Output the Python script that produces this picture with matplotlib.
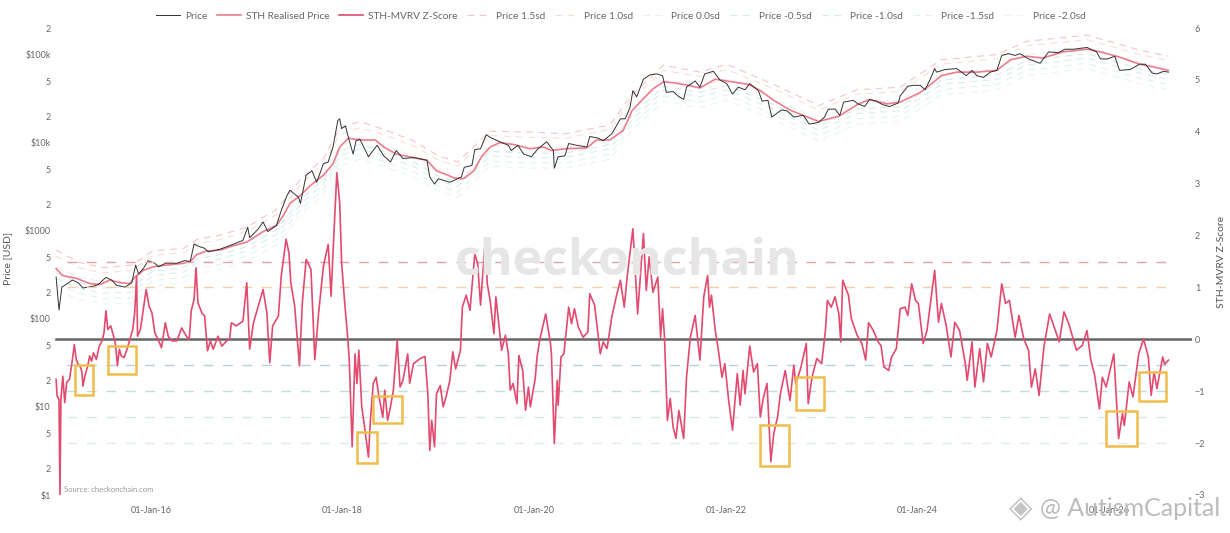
import matplotlib
matplotlib.use("Agg")
import matplotlib.pyplot as plt
from matplotlib.patches import Rectangle
import numpy as np

plt.rcParams['font.family'] = ['Lato', 'DejaVu Sans']

# STH-MVRV Z-score
z_years = [2015.01,2015.02,2015.04,2015.05,2015.06,2015.08,2015.10,2015.12,2015.15,2015.18,2015.20,2015.22,2015.24,2015.26,2015.28,2015.29,2015.31,2015.34,2015.36,2015.38,2015.40,2015.43,2015.46,2015.49,2015.51,2015.53,2015.55,2015.58,2015.61,2015.63,2015.65,2015.67,2015.69,2015.72,2015.75,2015.78,2015.81,2015.83,2015.85,2015.86,2015.89,2015.92,2015.95,2015.98,2016.01,2016.04,2016.08,2016.11,2016.15,2016.18,2016.22,2016.27,2016.32,2016.37,2016.40,2016.42,2016.45,2016.47,2016.49,2016.53,2016.56,2016.59,2016.62,2016.65,2016.70,2016.74,2016.79,2016.82,2016.84,2016.89,2016.96,2017.00,2017.03,2017.07,2017.12,2017.17,2017.21,2017.24,2017.27,2017.33,2017.36,2017.41,2017.44,2017.46,2017.50,2017.55,2017.58,2017.62,2017.67,2017.71,2017.75,2017.80,2017.85,2017.88,2017.90,2017.94,2017.97,2017.99,
2018.02,2018.05,2018.07,2018.10,2018.13,2018.15,2018.17,2018.20,2018.23,2018.27,2018.29,2018.32,2018.35,2018.38,2018.42,2018.44,2018.47,2018.50,2018.53,2018.57,2018.60,2018.63,2018.68,2018.70,2018.74,2018.81,2018.86,2018.89,2018.91,2018.93,2018.96,2018.98,2019.02,2019.05,2019.08,2019.12,2019.15,2019.18,2019.23,2019.25,2019.29,2019.33,2019.38,2019.41,2019.44,2019.49,2019.51,2019.54,2019.58,2019.60,2019.63,2019.66,2019.70,2019.73,2019.75,2019.78,2019.82,2019.84,2019.88,2019.91,2019.94,2019.96,2020.01,2020.03,2020.06,2020.12,2020.17,2020.18,2020.21,2020.24,2020.25,2020.28,2020.31,2020.36,2020.39,2020.42,2020.46,2020.51,2020.56,2020.58,2020.63,2020.69,2020.72,2020.76,2020.81,2020.86,2020.90,
2020.94,2020.97,2021.03,2021.08,2021.14,2021.17,2021.20,2021.24,2021.29,2021.32,2021.34,2021.36,2021.39,2021.42,2021.45,2021.48,2021.51,2021.56,2021.59,2021.63,2021.68,2021.73,2021.77,2021.81,2021.83,2021.85,2021.89,2021.92,2021.96,2021.99,2022.03,2022.07,2022.12,2022.15,2022.18,2022.20,2022.25,2022.29,2022.33,2022.36,2022.39,2022.43,2022.47,2022.50,2022.54,2022.57,2022.62,2022.67,2022.71,2022.73,2022.78,2022.84,2022.86,2022.90,2022.95,2023.00,2023.04,2023.06,2023.10,2023.14,2023.18,2023.20,2023.22,2023.28,2023.31,2023.37,2023.42,2023.46,2023.49,2023.54,2023.59,2023.62,2023.65,2023.70,2023.73,2023.78,2023.82,2023.87,2023.90,2023.94,2023.98,
2024.01,2024.06,2024.10,2024.14,2024.18,2024.22,2024.25,2024.30,2024.35,2024.39,2024.44,2024.50,2024.52,2024.57,2024.60,2024.65,2024.69,2024.73,2024.77,2024.83,2024.88,2024.92,2024.96,2025.02,2025.06,2025.11,2025.16,2025.19,2025.23,2025.27,2025.32,2025.38,2025.44,2025.48,2025.53,2025.58,2025.61,2025.66,2025.72,2025.77,2025.81,2025.85,2025.90,2025.93,2025.97,2026.05,2026.10,2026.14,2026.16,2026.21,2026.25,2026.31,2026.36,2026.41,2026.44,2026.47,2026.50,2026.56,2026.58,2026.62]
z_values = [-0.77,-1.09,-1.16,-2.99,-1.16,-0.71,-1.22,-0.83,-0.77,-0.39,-0.10,-0.39,-0.48,-0.51,-0.64,-0.90,-0.71,-0.51,-0.32,-0.42,-0.26,-0.39,-0.13,-0.03,0.13,0.55,0.19,0.26,0.06,-0.10,-0.51,-0.19,-0.32,-0.35,-0.19,0.0,0.19,0.51,1.22,0.06,0.19,0.58,0.96,0.64,0.51,0.13,-0.03,-0.16,0.32,0.06,-0.03,-0.03,0.22,0.06,0.0,0.55,0.77,1.38,0.71,0.51,0.45,-0.22,-0.03,-0.19,0.06,-0.13,-0.03,0.0,0.32,0.26,0.35,1.09,-0.19,0.32,0.64,0.96,0.51,-0.45,0.26,0.45,1.22,1.93,1.67,1.09,0.64,-0.51,0.71,1.54,1.35,-0.39,0.51,1.41,1.83,0.83,1.67,3.21,2.63,1.48,
0.75,0.11,-0.40,-2.07,-0.28,-0.85,-0.21,-1.30,-1.69,-2.27,-1.56,-0.85,-0.73,-1.11,-1.50,-0.98,-1.56,-1.30,-0.98,-0.02,-0.92,-0.79,-0.28,-0.85,-0.47,-0.37,-0.33,-1.05,-2.14,-1.56,-2.07,-1.05,-0.89,-1.30,-1.11,-0.79,-0.24,-0.57,-0.21,0.62,0.85,0.56,1.65,1.46,0.66,1.94,1.07,0.75,0.11,0.82,0.30,-0.21,0.08,-0.28,-0.98,-0.85,-1.24,-0.31,-0.60,-1.37,-0.92,-1.30,-0.76,-0.34,0.01,0.49,-0.08,-0.28,-2.01,-0.79,-1.27,-0.34,-0.28,0.62,0.30,0.59,0.24,0.04,0.14,0.88,0.66,-0.28,-0.05,-0.18,0.43,0.85,1.14,
0.62,1.20,2.13,0.49,2.04,0.94,1.59,0.91,1.20,0.04,0.59,0.04,-1.56,-1.14,-1.69,-1.91,-1.37,-1.91,-0.73,0.04,0.46,-0.40,0.82,1.23,0.62,0.85,0.17,-0.18,-0.73,-0.47,-1.18,-1.75,-0.66,-1.27,-0.60,-1.05,-0.13,-0.63,-0.47,-1.50,-1.14,-0.85,-2.36,-1.82,-1.50,-1.05,-0.60,-1.18,-0.50,-0.85,-0.57,-0.08,-1.24,-0.73,-0.37,-0.47,0.17,0.75,0.62,0.82,0.49,-0.05,1.14,0.85,0.40,0.08,-0.08,-0.40,0.32,0.17,-0.05,-0.12,-0.53,-0.60,-0.34,-0.18,0.59,0.62,0.46,1.07,0.75,
0.69,-0.08,0.17,0.75,1.33,0.33,0.69,0.27,-0.34,0.33,0.17,-0.47,-0.79,-0.05,-0.92,-0.18,-0.82,-0.08,-0.34,0.17,1.07,0.69,0.75,0.04,0.46,0.01,-0.21,-0.92,-0.57,-1.08,-0.15,0.49,0.17,-0.05,0.53,0.30,0.11,-0.21,-0.12,0.17,-0.40,-0.69,-1.34,-0.73,-0.92,-0.28,-1.91,-1.43,-1.66,-0.82,-1.11,-0.28,0.01,-0.34,-1.08,-0.63,-0.95,-0.34,-0.48,-0.40]

# Price (log10 USD)
price_years = [2015.01,2015.04,2015.07,2015.10,2015.18,2015.24,2015.29,2015.40,2015.45,2015.53,2015.59,2015.64,2015.73,2015.80,2015.84,2015.87,2015.92,2015.97,2016.04,2016.08,2016.15,2016.27,2016.35,2016.41,2016.45,2016.48,2016.56,2016.60,2016.72,2016.82,2016.96,2017.01,2017.03,2017.12,2017.17,2017.22,2017.31,2017.36,2017.42,2017.45,2017.54,2017.56,2017.62,2017.68,2017.73,2017.80,2017.85,2017.90,2017.95,2017.97,2017.99,2018.03,2018.06,2018.11,2018.14,2018.18,2018.27,2018.36,2018.43,2018.50,2018.56,2018.63,2018.74,2018.88,2018.91,2018.96,2019.00,2019.12,2019.24,2019.27,2019.35,2019.38,2019.44,2019.50,2019.54,2019.64,2019.73,2019.76,2019.83,2019.89,2019.97,2020.04,2020.13,2020.20,2020.21,2020.25,2020.32,2020.36,2020.44,2020.55,2020.58,2020.67,2020.72,2020.81,2020.90,2020.95,2021.00,2021.03,2021.07,2021.14,2021.21,2021.28,2021.34,2021.38,2021.45,2021.50,2021.56,2021.59,2021.68,2021.73,2021.78,2021.87,2021.94,2022.01,2022.07,2022.13,2022.20,2022.25,2022.34,2022.38,2022.44,2022.48,2022.58,2022.64,2022.71,2022.81,2022.87,2022.97,2023.03,2023.07,2023.14,2023.19,2023.23,2023.33,2023.38,2023.45,2023.50,2023.57,2023.64,2023.71,2023.80,2023.82,2023.90,2023.96,2024.03,2024.08,2024.13,2024.18,2024.20,2024.29,2024.41,2024.51,2024.57,2024.62,2024.69,2024.76,2024.83,2024.88,2024.95,2025.02,2025.07,2025.16,2025.28,2025.37,2025.47,2025.54,2025.63,2025.77,2025.87,2025.91,2025.98,2026.06,2026.11,2026.22,2026.32,2026.38,2026.45,2026.50,2026.57,2026.62]
price_log = [2.475,2.10,2.36,2.38,2.44,2.41,2.35,2.37,2.39,2.47,2.44,2.38,2.36,2.41,2.61,2.51,2.57,2.66,2.63,2.59,2.63,2.63,2.66,2.65,2.85,2.83,2.80,2.76,2.79,2.83,2.89,3.04,2.92,3.02,3.10,2.99,3.06,3.23,3.40,3.46,3.38,3.31,3.63,3.68,3.55,3.76,3.78,3.95,4.25,4.27,4.16,4.19,4.06,3.87,4.02,4.04,3.84,3.97,3.85,3.78,3.91,3.82,3.83,3.80,3.61,3.53,3.59,3.55,3.61,3.72,3.74,3.92,3.93,4.09,4.06,4.01,3.97,3.91,3.97,3.87,3.84,3.93,4.01,3.91,3.71,3.84,3.85,3.99,3.97,3.95,4.07,4.05,4.02,4.10,4.27,4.27,4.40,4.59,4.52,4.72,4.77,4.78,4.76,4.57,4.58,4.53,4.49,4.63,4.70,4.63,4.78,4.81,4.71,4.67,4.55,4.63,4.60,4.67,4.59,4.47,4.48,4.29,4.37,4.36,4.29,4.31,4.21,4.23,4.29,4.38,4.38,4.31,4.46,4.48,4.44,4.41,4.49,4.47,4.43,4.41,4.45,4.53,4.64,4.65,4.65,4.60,4.71,4.84,4.80,4.83,4.84,4.76,4.82,4.76,4.74,4.80,4.82,4.99,5.01,4.99,5.01,4.95,4.90,5.03,5.02,5.06,5.06,5.08,5.03,4.95,4.95,4.98,4.82,4.83,4.89,4.89,4.79,4.78,4.81,4.80]

# STH realised price (log10 USD)
real_years = [2015.01,2015.08,2015.22,2015.36,2015.47,2015.57,2015.68,2015.78,2015.83,2015.92,2016.02,2016.16,2016.34,2016.42,2016.48,2016.58,2016.72,2016.86,2017.00,2017.17,2017.31,2017.38,2017.45,2017.56,2017.66,2017.80,2017.90,2017.97,2018.06,2018.18,2018.34,2018.43,2018.56,2018.74,2018.88,2018.98,2019.10,2019.16,2019.26,2019.37,2019.45,2019.54,2019.64,2019.78,2019.96,2020.10,2020.18,2020.32,2020.55,2020.65,2020.79,2020.93,2021.02,2021.14,2021.24,2021.35,2021.45,2021.61,2021.73,2021.89,2022.01,2022.24,2022.36,2022.50,2022.67,2022.85,2022.97,2023.04,2023.18,2023.37,2023.50,2023.68,2023.82,2024.03,2024.15,2024.25,2024.41,2024.62,2024.83,2024.97,2025.14,2025.31,2025.52,2025.77,2025.91,2026.11,2026.32,2026.46,2026.62]
real_log = [2.57,2.49,2.46,2.40,2.39,2.44,2.41,2.40,2.47,2.55,2.59,2.61,2.63,2.66,2.73,2.77,2.78,2.83,2.87,2.99,3.06,3.17,3.31,3.40,3.51,3.63,3.76,3.95,4.05,4.03,4.03,3.95,3.87,3.83,3.80,3.68,3.63,3.60,3.59,3.68,3.84,3.95,4.00,3.98,3.93,3.95,3.91,3.93,3.94,4.03,4.03,4.14,4.36,4.50,4.61,4.69,4.68,4.65,4.62,4.72,4.70,4.66,4.59,4.48,4.37,4.29,4.24,4.26,4.30,4.43,4.49,4.44,4.46,4.57,4.67,4.76,4.80,4.80,4.82,4.94,4.98,4.96,5.03,5.06,5.03,4.97,4.89,4.86,4.82]

# Price standard-deviation bands (log10 USD)
band_years = [2015.01,2015.25,2015.50,2015.80,2016.02,2016.34,2016.48,2016.72,2017.00,2017.31,2017.56,2017.80,2017.97,2018.18,2018.43,2018.74,2019.00,2019.20,2019.54,2019.96,2020.32,2020.79,2021.02,2021.35,2021.73,2022.01,2022.50,2022.97,2023.37,2023.82,2024.25,2024.83,2025.14,2025.77,2026.32,2026.62]
band_p15 = [2.78,2.64,2.58,2.61,2.77,2.80,2.90,2.95,3.04,3.24,3.58,3.82,4.16,4.24,4.15,4.02,3.85,3.78,4.13,4.12,4.10,4.20,4.54,4.88,4.80,4.89,4.66,4.42,4.60,4.63,4.94,5.00,5.15,5.22,5.05,4.98]
band_p10 = [2.71,2.58,2.52,2.55,2.72,2.75,2.85,2.90,2.99,3.18,3.52,3.76,4.09,4.17,4.09,3.96,3.80,3.73,4.08,4.06,4.05,4.15,4.49,4.82,4.75,4.83,4.61,4.37,4.55,4.58,4.89,4.95,5.10,5.17,5.00,4.93]
band_p00 = [2.59,2.47,2.42,2.43,2.60,2.64,2.74,2.79,2.88,3.07,3.41,3.64,3.96,4.05,3.97,3.85,3.69,3.62,3.97,3.95,3.94,4.05,4.38,4.71,4.64,4.72,4.50,4.26,4.45,4.48,4.78,4.84,5.00,5.08,4.91,4.84]
band_m05 = [2.52,2.41,2.35,2.36,2.54,2.58,2.68,2.73,2.82,3.01,3.35,3.58,3.90,3.98,3.90,3.78,3.62,3.55,3.90,3.88,3.88,3.98,4.31,4.64,4.57,4.65,4.43,4.19,4.38,4.41,4.71,4.77,4.93,5.01,4.84,4.77]
band_m10 = [2.46,2.35,2.29,2.30,2.49,2.53,2.63,2.68,2.77,2.96,3.30,3.53,3.85,3.93,3.85,3.73,3.57,3.50,3.85,3.83,3.83,3.93,4.26,4.59,4.52,4.60,4.38,4.14,4.33,4.36,4.66,4.72,4.88,4.96,4.79,4.72]
band_m15 = [2.39,2.29,2.23,2.24,2.43,2.47,2.57,2.62,2.71,2.90,3.24,3.47,3.79,3.87,3.79,3.67,3.51,3.44,3.79,3.77,3.77,3.87,4.20,4.53,4.46,4.54,4.32,4.08,4.27,4.30,4.60,4.66,4.82,4.90,4.73,4.66]
band_m20 = [2.32,2.22,2.17,2.18,2.37,2.41,2.51,2.56,2.65,2.84,3.18,3.41,3.73,3.81,3.73,3.61,3.45,3.38,3.73,3.71,3.71,3.81,4.14,4.47,4.40,4.48,4.26,4.02,4.21,4.24,4.54,4.60,4.76,4.84,4.67,4.60]

band_names = ["Price 1.5sd","Price 1.0sd","Price 0.0sd","Price -0.5sd","Price -1.0sd","Price -1.5sd","Price -2.0sd"]
band_colors = ["#f5c3cb","#f8dfd6","#eeeeee","#d5e9f0","#d5efec","#e0f3f0","#eaf6f4"]
band_levels = [1.5,1.0,0.0,-0.5,-1.0,-1.5,-2.0]
hline_colors = ["#e5a0ae","#f3cfa8","#555555","#b5d0dc","#bfdfdc","#d8e8e6","#e2ecea"]

# Highlight boxes: (start year, end year, low z, high z)
box_year0 = [2015.21,2015.55,2018.15,2018.32,2022.36,2022.73,2025.97,2026.31]
box_year1 = [2015.39,2015.84,2018.36,2018.62,2022.66,2023.03,2026.29,2026.59]
box_zlow  = [-1.08,-0.66,-2.39,-1.62,-2.45,-1.37,-2.06,-1.19]
box_zhigh = [-0.50,-0.13,-1.79,-1.10,-1.66,-0.73,-1.39,-0.62]

xtick_years = [2016,2018,2020,2022,2024,2026]
xtick_labels = ["01-Jan-16","01-Jan-18","01-Jan-20","01-Jan-22","01-Jan-24","01-Jan-26"]
ytick_values = [1,2,5,10,20,50,100,200,500,1000,2000,5000,10000,20000,50000,100000,200000]
ytick_labels = ["$1","2","5","$10","2","5","$100","2","5","$1000","2","5","$10k","2","5","$100k","2"]
ztick_values = [-3,-2,-1,0,1,2,3,4,5,6]

W, H = 1230, 533
fig = plt.figure(figsize=(W/100, H/100), dpi=100, facecolor="white")
L, R_, T, B = 52, 1192, 28, 495
ax = fig.add_axes([L/W, 1-B/H, (R_-L)/W, (B-T)/H])
ax.set_xlim(2014.967, 2026.866)
ax.set_yscale("log")
ax.set_ylim(1, 10**5.295)
ax.minorticks_off()
ax.set_yticks(ytick_values)
ax.set_yticklabels(ytick_labels)
ax.set_xticks(xtick_years)
ax.set_xticklabels(xtick_labels)
ax.tick_params(axis="both", length=0, labelsize=6.5, labelcolor="#666666")
ax.tick_params(axis="y", pad=1)
ax.tick_params(axis="x", pad=8)
for s in ax.spines.values():
    s.set_visible(False)
ax.set_facecolor("none")

ax2 = ax.twinx()
ax2.set_ylim(-3, 6)
ax2.set_yticks(ztick_values)
ax2.tick_params(axis="y", length=0, labelsize=6.5, labelcolor="#666666", pad=2)
for s in ax2.spines.values():
    s.set_visible(False)
ax2.set_facecolor("none")

fig.text(455/W, 1-262/H, "checkonchain", fontsize=36, fontweight="bold",
         color="#e6e6e6", va="center", ha="left", family="Open Sans", zorder=0)

bands = [band_p15, band_p10, band_p00, band_m05, band_m10, band_m15, band_m20]
lh_price, = ax.plot(price_years, 10**np.array(price_log), color="#333333", lw=0.7, zorder=4, label="Price")
lh_real, = ax.plot(real_years, 10**np.array(real_log), color="#ec7d8c", lw=1.2, zorder=3, label="STH Realised Price")
band_handles = []
for vals, name, col in zip(bands, band_names, band_colors):
    h, = ax.plot(band_years, 10**np.array(vals), color=col, lw=0.8, ls=(0, (6, 5)), zorder=2, label=name)
    band_handles.append(h)

for lev, col in zip(band_levels, hline_colors):
    if lev == 0:
        ax2.plot([2015.01, 2026.86], [lev, lev], color=col, lw=1.8, alpha=0.9, zorder=5)
    else:
        ax2.plot([2015.12, 2026.62], [lev, lev], color=col, lw=1.0, ls=(0, (7, 7)), zorder=1)

lh_z, = ax2.plot(z_years, z_values, color="#e24a70", lw=1.2, zorder=6, label="STH-MVRV Z-Score")

for x0, x1, zl, zh in zip(box_year0, box_year1, box_zlow, box_zhigh):
    ax2.add_patch(Rectangle((x0, zl), x1-x0, zh-zl, fill=False, ec="#f0bd4a", lw=1.8, zorder=7))

fig.legend(handles=[lh_price, lh_real, lh_z]+band_handles, ncol=10, loc="center",
           bbox_to_anchor=(621/W, 1-16/H), frameon=False, fontsize=7.3, labelcolor="#666666",
           columnspacing=1.0, handlelength=2.3, handletextpad=0.5)

fig.text(8/W, 1-258/H, "Price [USD]", rotation=90, fontsize=7.5, color="#555555", va="center", ha="center")
fig.text(1222/W, 1-262/H, "STH-MVRV Z-Score", rotation=90, fontsize=7.5, color="#555555", va="center", ha="center")
fig.text(64/W, 1-489/H, "Source: checkonchain.com", fontsize=5.5, color="#999999", va="center", ha="left")

fig.text(1021/W, 1-509/H, "\u25c8", fontsize=22, color="#c4c4c4", va="center", ha="center", family="DejaVu Sans")
fig.text(1040/W, 1-508/H, "@ AutismCapital", fontsize=18, color="#bcbcbc", va="center", ha="left", zorder=10)

fig.savefig("out.png", dpi=100, facecolor="white")
